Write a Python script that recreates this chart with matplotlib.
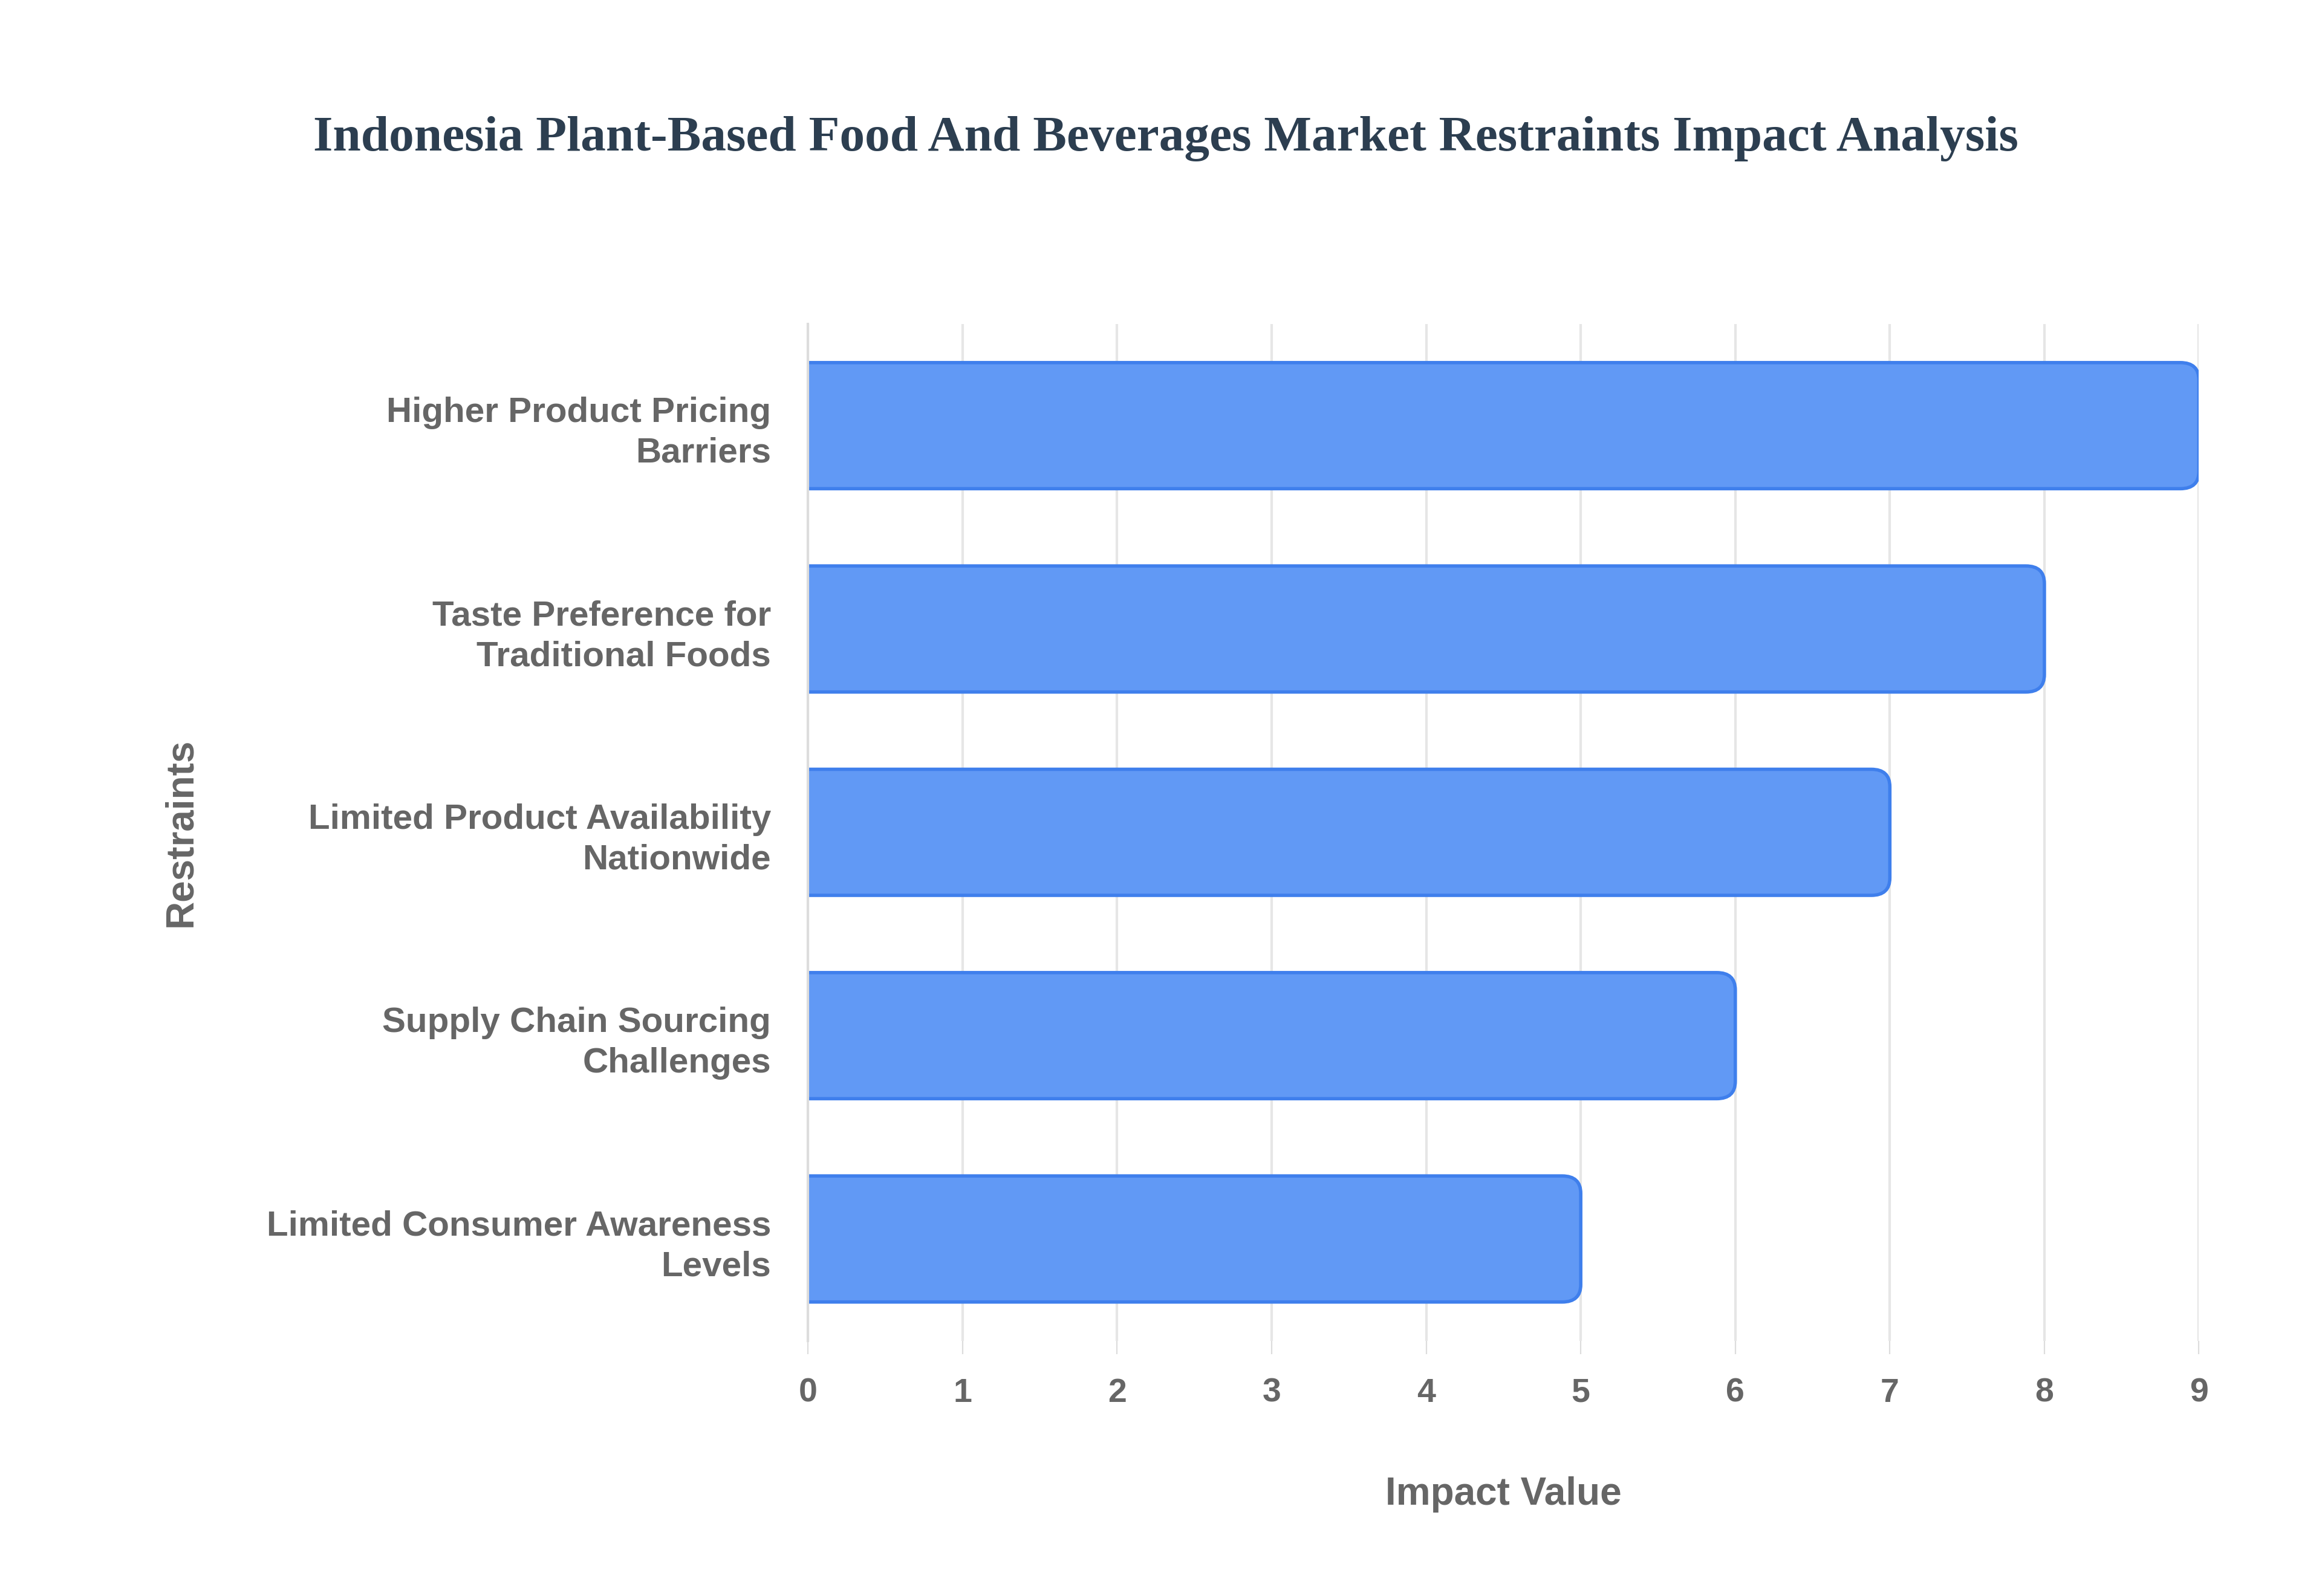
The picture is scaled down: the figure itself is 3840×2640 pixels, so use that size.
import matplotlib
matplotlib.use("Agg")
import matplotlib.pyplot as plt
from matplotlib.patches import FancyBboxPatch

restraints = [
    "Higher Product Pricing\nBarriers",
    "Taste Preference for\nTraditional Foods",
    "Limited Product Availability\nNationwide",
    "Supply Chain Sourcing\nChallenges",
    "Limited Consumer Awareness\nLevels",
]
impact = [9, 8, 7, 6, 5]
ticks = [0, 1, 2, 3, 4, 5, 6, 7, 8, 9]

fig = plt.figure(figsize=(19.2, 13.2), dpi=200)
ax = fig.add_axes([0.348, 0.16, 0.599, 0.637])

ys = list(range(len(restraints)))[::-1]
bar_h = 0.62
for y, v in zip(ys, impact):
    p = FancyBboxPatch((-0.2, y - bar_h / 2), v + 0.2, bar_h,
                       boxstyle="round,pad=0,rounding_size=0.12",
                       mutation_aspect=1 / 1.4,
                       facecolor="#6199f5", edgecolor="#3f7fec",
                       lw=2, zorder=3)
    ax.add_patch(p)
    p.set_clip_on(True)

ax.set_xlim(0, 9)
ax.set_ylim(-0.5, len(restraints) - 0.5)
ax.set_yticks(ys)
ax.set_yticklabels(restraints)
ax.set_xticks(ticks)

ax.grid(axis='x', color='#e6e6e6', lw=1.5, zorder=0)
for s in ['top', 'right', 'bottom']:
    ax.spines[s].set_visible(False)
ax.spines['left'].set_color('#dddddd')
ax.spines['left'].set_linewidth(1.5)
ax.spines['left'].set_zorder(4)

lab_font = dict(family=['Liberation Sans', 'DejaVu Sans'], weight='bold', color='#666666')
ax.tick_params(axis='y', length=0, pad=22)
ax.tick_params(axis='x', length=8, color='#dddddd', pad=14)
for t in ax.get_yticklabels():
    t.set(fontsize=21, ha='right', linespacing=1.3, **lab_font)
for t in ax.get_xticklabels():
    t.set(fontsize=20, **lab_font)

ax.set_xlabel("Impact Value", fontsize=23, labelpad=40, **lab_font)
ax.set_ylabel("Restraints", fontsize=23, labelpad=40, **lab_font)

fig.text(0.502, 0.913, "Indonesia Plant-Based Food And Beverages Market Restraints Impact Analysis",
         ha='center', va='center', fontsize=30, weight='bold', color='#2c3e50',
         family=['Liberation Serif', 'DejaVu Serif'])

fig.savefig("out.png", dpi=200, facecolor='white')
